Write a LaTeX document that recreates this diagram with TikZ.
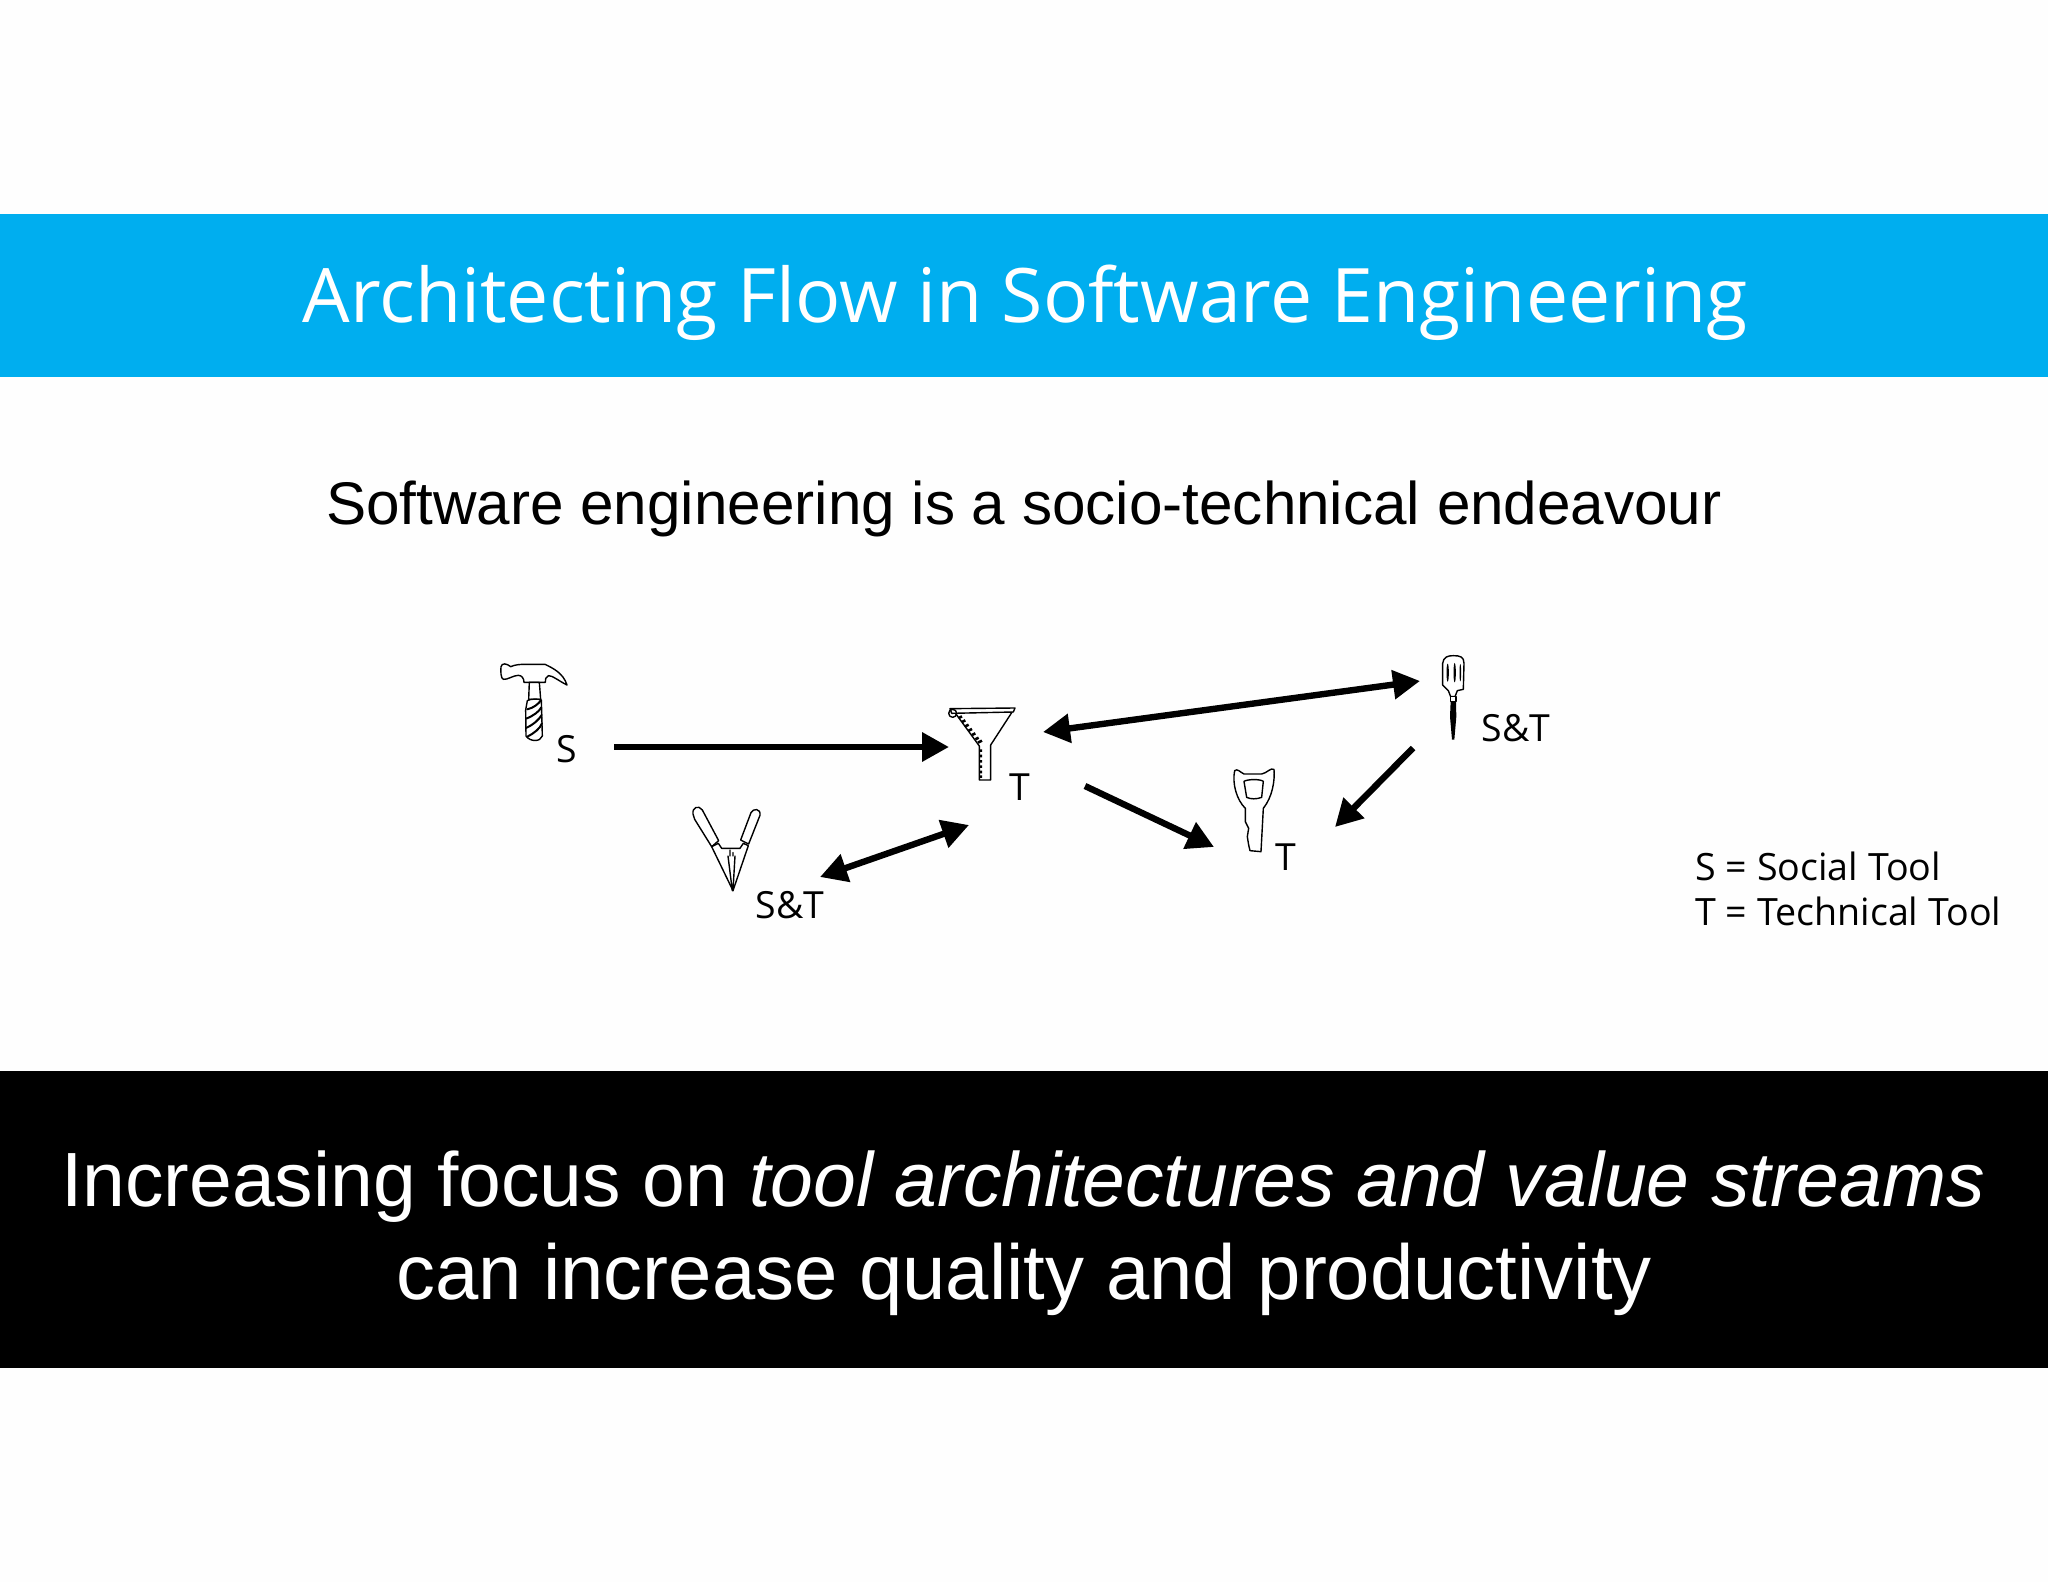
\documentclass[tikz,border=0pt]{standalone}
\usepackage{fontspec}
\setmainfont{Liberation Sans}
\newfontfamily\humanist{Open Sans}
\usetikzlibrary{arrows.meta}
\definecolor{bandblue}{HTML}{00AEEF}
\definecolor{paper}{HTML}{FEFEFE}
\tikzset{
  band/.style={draw=none,fill=#1},
  headline/.style={anchor=base,inner sep=0pt,text=white,font=\humanist\fontsize{37.6}{46}\selectfont},
  subhead/.style={anchor=base,inner sep=0pt,text=black,font=\fontsize{30.1}{36}\selectfont},
  takeaway/.style={anchor=base,inner sep=0pt,text=white},
  toollabel/.style={anchor=base,inner sep=0pt,text=black,font=\humanist\fontsize{18.7}{22}\selectfont},
  legendline/.style={anchor=base west,inner sep=0pt,text=black,font=\humanist\fontsize{18.8}{22}\selectfont},
  flow/.style={line width=3.2pt,-{Triangle[length=13.5pt,width=14pt]}},
  bothflow/.style={line width=3.2pt,{Triangle[length=13.5pt,width=14pt]}-{Triangle[length=13.5pt,width=14pt]}},
  icon/.style={draw=black,fill=white,line width=0.7pt,line join=round},
  iconline/.style={draw=black,line width=0.7pt,line cap=round},
  zoomed/.style={x=0.5pt/3,y=-0.5pt/3},
}
\begin{document}
\begin{tikzpicture}[x=0.5pt,y=-0.5pt]
\useasboundingbox (0,0) rectangle (2048,1582);
\fill[paper] (0,0) rectangle (2048,1582);
\fill[band=bandblue] (0,214) rectangle (2048,377);
\fill[band=black] (0,1071) rectangle (2048,1368);

\node[headline] (title) at (1025,323) {Architecting Flow in Software Engineering};
\node[subhead] (sub) at (1024,525) {Software engineering is a socio-technical endeavour};
\node[takeaway,font=\fontsize{38.45}{44}\selectfont] (take1) at (1023,1206) {Increasing focus on \textit{tool architectures and value streams}};
\node[takeaway,font=\fontsize{38.95}{44}\selectfont] (take2) at (1024,1299) {can increase quality and productivity};

\node[toollabel] (ls) at (567,762) {S};
\node[toollabel] (lst1) at (790,918) {S\&T};
\node[toollabel] (lt1) at (1020,800) {T};
\node[toollabel] (lt2) at (1286,870) {T};
\node[toollabel] (lst2) at (1516,741) {S\&T};
\node[legendline] (leg1) at (1695,880) {S = Social Tool};
\node[legendline] (leg2) at (1695,925) {T = Technical Tool};

% hammer and pliers
\begin{scope}[shift={(470,630)},zoomed]
  \path[icon] (93,110) .. controls (96,98) and (110,100) .. (122,110) .. controls (135,104) and (150,103) .. (165,103) -- (225,103)
    .. controls (250,115) and (280,130) .. (291,165) .. controls (270,155) and (245,135) .. (235,137)
    .. controls (226,140) and (226,150) .. (226,157) -- (162,157) .. controls (162,145) and (155,136) .. (145,136)
    .. controls (130,136) and (112,150) .. (100,148) .. controls (92,145) and (92,125) .. (93,110) -- cycle;
  \path[icon] (178,157) -- (176,208) -- (212,208) -- (208,157) -- cycle;
  \path[icon] (172,212) .. controls (182,206) and (205,206) .. (214,210) -- (217,318) .. controls (212,336) and (180,336) .. (168,318) -- (167,240) -- cycle;
  \path[iconline,line width=1pt] (172,238) .. controls (190,234) and (205,222) .. (212,212) (168,266) .. controls (190,258) and (208,244) .. (214,232) (168,294) .. controls (190,284) and (208,268) .. (215,255) (172,320) .. controls (192,310) and (210,296) .. (216,280);
  % pliers
  \path[icon] (669,552) .. controls (666,532) and (686,524) .. (697,540) -- (746,632) -- (725,650) -- (674,568) -- cycle;
  \path[icon] (843,548) .. controls (850,534) and (873,535) .. (870,556) -- (836,642) -- (812,630) -- cycle;
  \path[icon] (725,650) -- (745,640) -- (755,655) -- (810,655) -- (820,640) -- (835,647) -- (789,782) -- cycle;
  \path[iconline] (780,660) -- (780,678) (789,668) -- (789,678) (774,678) -- (787,782) (795,678) -- (789,782);
\end{scope}

% funnel and key
\begin{scope}[shift={(900,680)},zoomed]
  \path[icon] (165,98) -- (238,198) -- (238,300) -- (272,300) -- (272,195) -- (337,95) -- cycle;
  \path[icon] (150,86) -- (345,84) -- (340,96) -- (155,100) -- cycle;
  \draw[icon,fill=none] (158,100) circle[radius=12];
  \path[draw=black,line width=1.3pt] (176,114) -- (186,109) (186,126) -- (196,121) (196,139) -- (206,134) (206,152) -- (216,147) (216,165) -- (226,160) (226,178) -- (236,173) (234,188) -- (246,182) (238,212) -- (246,212) (238,228) -- (246,228) (238,244) -- (246,244) (238,260) -- (246,260) (238,276) -- (246,276) (238,290) -- (246,290);
  \path[icon] (1004,272) .. controls (1012,264) and (1022,278) .. (1032,282) -- (1085,282) .. controls (1100,280) and (1112,262) .. (1122,268)
    .. controls (1125,300) and (1118,350) .. (1090,385) -- (1083,515) -- (1050,512) -- (1046,495) -- (1042,470) -- (1046,445) -- (1036,425) -- (1036,385)
    .. controls (1010,360) and (996,310) .. (1004,272) -- cycle;
  \path[icon] (1032,304) .. controls (1045,297) and (1080,297) .. (1090,304) -- (1085,352) .. controls (1070,358) and (1052,358) .. (1040,352) -- cycle;
\end{scope}

% spatula
\begin{scope}[shift={(1200,630)},zoomed]
  \path[icon] (728,100) .. controls (730,80) and (745,77) .. (760,77) .. controls (780,77) and (792,80) .. (792,100) -- (790,178) -- (772,182) -- (765,200) -- (752,200) -- (745,182) -- (728,165) -- cycle;
  \fill[black] (743,128) ellipse[x radius=3.5,y radius=27] (764,128) ellipse[x radius=3.5,y radius=29] (781,128) ellipse[x radius=2.5,y radius=26];
  \path[icon] (752,200) -- (768,200) -- (768,214) -- (752,214) -- cycle;
  \fill[black] (752,214) -- (750,260) -- (756,329) -- (763,329) -- (769,260) -- (768,214) -- cycle;
\end{scope}

% connector ends
\coordinate (hammerOut) at (614,747);
\coordinate (funnelIn) at (949,747);
\coordinate (funnelEast) at (1043,732);
\coordinate (spatulaWest) at (1420,681);
\coordinate (funnelOut) at (1085,786);
\coordinate (keyWest) at (1214,847);
\coordinate (spatulaOut) at (1413,748);
\coordinate (keyEast) at (1335,827);
\coordinate (pliersEast) at (820,877);
\coordinate (funnelSouth) at (969,825);

\draw[flow] (hammerOut) -- (funnelIn);
\draw[bothflow] (funnelEast) -- (spatulaWest);
\draw[flow] (funnelOut) -- (keyWest);
\draw[flow] (spatulaOut) -- (keyEast);
\draw[bothflow] (pliersEast) -- (funnelSouth);
\end{tikzpicture}
\end{document}
